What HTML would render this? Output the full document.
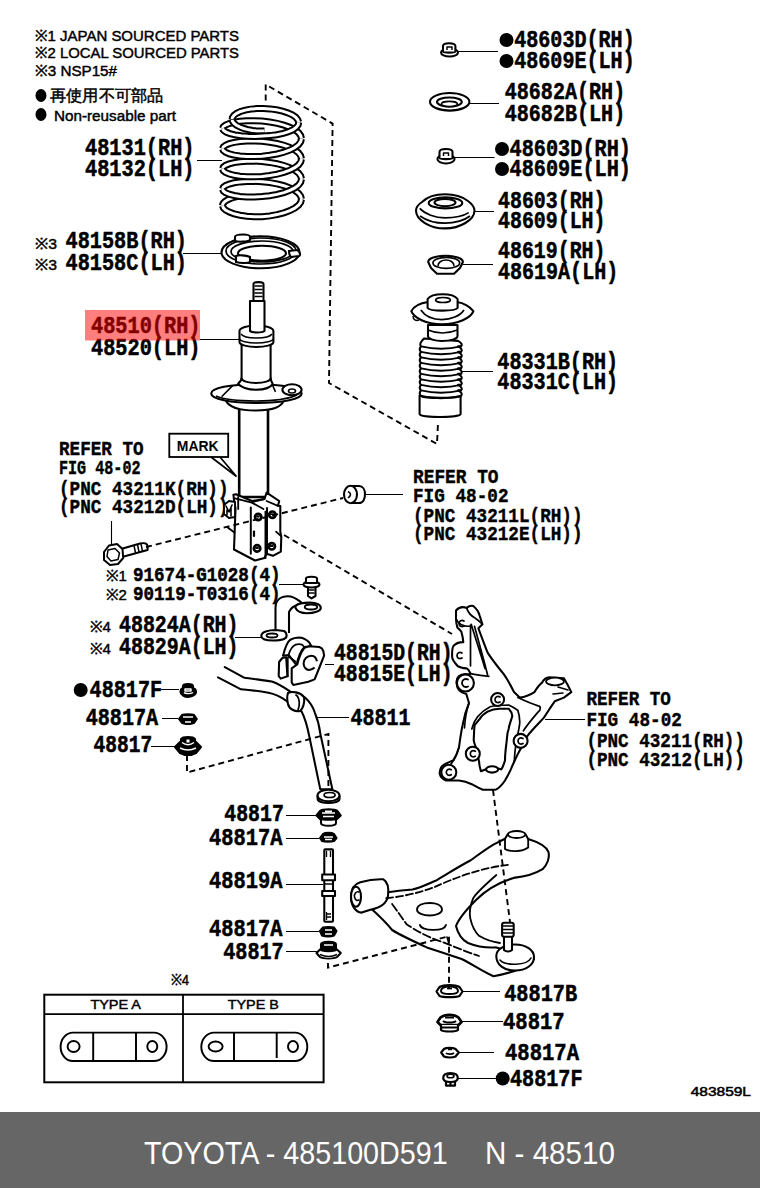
<!DOCTYPE html>
<html><head><meta charset="utf-8">
<style>
html,body{margin:0;padding:0;background:#fff;width:760px;height:1188px;overflow:hidden}
svg{display:block;position:absolute;left:0;top:0}
.L{font-family:"Liberation Mono",monospace;font-weight:bold;font-size:23px;fill:#000;stroke:#000;stroke-width:0.5}
.N{font-family:"Liberation Sans",sans-serif;font-size:15.5px;fill:#000;stroke:#000;stroke-width:0.45}
.R{font-family:"Liberation Mono",monospace;font-weight:bold;font-size:20px;fill:#000;stroke:#000;stroke-width:0.4}
.s{fill:none;stroke:#000;stroke-width:1.5;stroke-linejoin:round;stroke-linecap:round}
.t{fill:none;stroke:#000;stroke-width:1.2}
.d{fill:none;stroke:#000;stroke-width:1.9;stroke-dasharray:6 4}
.w{fill:#fff;stroke:#000;stroke-width:1.5;stroke-linejoin:round}
#foot{position:absolute;left:0;top:1112px;width:760px;height:76px;background:#666}
#foot span{position:absolute;top:0;font-family:"Liberation Sans",sans-serif;font-size:31px;color:#fff;white-space:nowrap;line-height:76px}
</style></head><body>
<svg width="760" height="1112" viewBox="0 0 760 1112">
<!-- notes -->
<text class="N" x="35" y="40.5" textLength="204" lengthAdjust="spacingAndGlyphs">※1 JAPAN SOURCED PARTS</text>
<text class="N" x="35" y="58" textLength="204" lengthAdjust="spacingAndGlyphs">※2 LOCAL SOURCED PARTS</text>
<text class="N" x="35" y="76" textLength="82" lengthAdjust="spacingAndGlyphs">※3 NSP15#</text>
<ellipse cx="41" cy="95.5" rx="5.5" ry="6.5" fill="#000"/>
<text class="N" x="50" y="100.5" textLength="113.7" lengthAdjust="spacingAndGlyphs">再使用不可部品</text>
<ellipse cx="41" cy="114.5" rx="5.5" ry="6.5" fill="#000"/>
<text class="N" x="54" y="120.5" textLength="122" lengthAdjust="spacingAndGlyphs">Non-reusable part</text>

<!-- labels left -->
<text class="L" x="85" y="155" textLength="109.5" lengthAdjust="spacingAndGlyphs">48131(RH)</text>
<text class="L" x="85" y="176" textLength="109.5" lengthAdjust="spacingAndGlyphs">48132(LH)</text>
<text class="N" x="35" y="248.5" textLength="22" lengthAdjust="spacingAndGlyphs">※3</text>
<text class="L" x="65.5" y="248.2" textLength="121.5" lengthAdjust="spacingAndGlyphs">48158B(RH)</text>
<text class="N" x="35" y="269.5" textLength="22" lengthAdjust="spacingAndGlyphs">※3</text>
<text class="L" x="65.5" y="269.7" textLength="121.5" lengthAdjust="spacingAndGlyphs">48158C(LH)</text>
<text class="L" x="91" y="333" textLength="109.5" lengthAdjust="spacingAndGlyphs">48510(RH)</text>
<text class="L" x="91" y="355.3" textLength="109.5" lengthAdjust="spacingAndGlyphs">48520(LH)</text>

<text class="R" x="59" y="455.2" textLength="84.5" lengthAdjust="spacingAndGlyphs">REFER TO</text>
<text class="R" x="59" y="474" textLength="81.5" lengthAdjust="spacingAndGlyphs">FIG 48-02</text>
<text class="R" x="59" y="494.6" textLength="169.5" lengthAdjust="spacingAndGlyphs">(PNC 43211K(RH))</text>
<text class="R" x="59" y="513" textLength="169.5" lengthAdjust="spacingAndGlyphs">(PNC 43212D(LH))</text>

<text class="R" x="413" y="483" textLength="85.5" lengthAdjust="spacingAndGlyphs">REFER TO</text>
<text class="R" x="413" y="502" textLength="95.5" lengthAdjust="spacingAndGlyphs">FIG 48-02</text>
<text class="R" x="413" y="521.5" textLength="169.5" lengthAdjust="spacingAndGlyphs">(PNC 43211L(RH))</text>
<text class="R" x="413" y="540" textLength="169.5" lengthAdjust="spacingAndGlyphs">(PNC 43212E(LH))</text>

<text class="N" x="106" y="581.3" textLength="21" lengthAdjust="spacingAndGlyphs">※1</text>
<text class="L" x="133" y="581.3" textLength="147.5" lengthAdjust="spacingAndGlyphs" style="font-size:20.5px">91674-G1028(4)</text>
<text class="N" x="106" y="600" textLength="21" lengthAdjust="spacingAndGlyphs">※2</text>
<text class="L" x="133" y="600" textLength="147.5" lengthAdjust="spacingAndGlyphs" style="font-size:20.5px">90119-T0316(4)</text>
<text class="N" x="90" y="632.2" textLength="21" lengthAdjust="spacingAndGlyphs">※4</text>
<text class="L" x="119" y="632.2" textLength="119.5" lengthAdjust="spacingAndGlyphs">48824A(RH)</text>
<text class="N" x="90" y="653.6" textLength="21" lengthAdjust="spacingAndGlyphs">※4</text>
<text class="L" x="119" y="653.6" textLength="119.5" lengthAdjust="spacingAndGlyphs">48829A(LH)</text>
<text class="L" x="334" y="659.5" textLength="118.5" lengthAdjust="spacingAndGlyphs">48815D(RH)</text>
<text class="L" x="334" y="681" textLength="118.5" lengthAdjust="spacingAndGlyphs">48815E(LH)</text>

<circle cx="80.7" cy="690" r="7" fill="#000"/>
<text class="L" x="89.6" y="697.3" textLength="72.5" lengthAdjust="spacingAndGlyphs">48817F</text>
<text class="L" x="85.7" y="724.5" textLength="72.5" lengthAdjust="spacingAndGlyphs">48817A</text>
<text class="L" x="93.6" y="751.6" textLength="58.5" lengthAdjust="spacingAndGlyphs">48817</text>
<text class="L" x="350.5" y="724.6" textLength="60" lengthAdjust="spacingAndGlyphs">48811</text>

<text class="R" x="586.4" y="705.4" textLength="84.5" lengthAdjust="spacingAndGlyphs">REFER TO</text>
<text class="R" x="586.4" y="725.6" textLength="95.5" lengthAdjust="spacingAndGlyphs">FIG 48-02</text>
<text class="R" x="586.4" y="746.6" textLength="158.5" lengthAdjust="spacingAndGlyphs">(PNC 43211(RH))</text>
<text class="R" x="586.4" y="765.8" textLength="158.5" lengthAdjust="spacingAndGlyphs">(PNC 43212(LH))</text>

<text class="L" x="224.3" y="821.3" textLength="59.5" lengthAdjust="spacingAndGlyphs">48817</text>
<text class="L" x="209" y="845" textLength="73.5" lengthAdjust="spacingAndGlyphs">48817A</text>
<text class="L" x="209" y="887.6" textLength="73.5" lengthAdjust="spacingAndGlyphs">48819A</text>
<text class="L" x="209" y="936" textLength="73.5" lengthAdjust="spacingAndGlyphs">48817A</text>
<text class="L" x="223.2" y="959.2" textLength="60.5" lengthAdjust="spacingAndGlyphs">48817</text>

<!-- right column labels -->
<circle cx="506.5" cy="40" r="7" fill="#000"/>
<text class="L" x="514.2" y="46.8" textLength="120.5" lengthAdjust="spacingAndGlyphs">48603D(RH)</text>
<circle cx="506.5" cy="61" r="7" fill="#000"/>
<text class="L" x="514.2" y="68" textLength="120.5" lengthAdjust="spacingAndGlyphs">48609E(LH)</text>
<text class="L" x="504.7" y="99" textLength="120.5" lengthAdjust="spacingAndGlyphs">48682A(RH)</text>
<text class="L" x="504.7" y="121" textLength="120.5" lengthAdjust="spacingAndGlyphs">48682B(LH)</text>
<circle cx="502" cy="149" r="7" fill="#000"/>
<text class="L" x="509.5" y="155.8" textLength="121.5" lengthAdjust="spacingAndGlyphs">48603D(RH)</text>
<circle cx="502" cy="169" r="7" fill="#000"/>
<text class="L" x="509.5" y="176.3" textLength="121.5" lengthAdjust="spacingAndGlyphs">48609E(LH)</text>
<text class="L" x="498" y="208" textLength="107.5" lengthAdjust="spacingAndGlyphs">48603(RH)</text>
<text class="L" x="498" y="228.4" textLength="107.5" lengthAdjust="spacingAndGlyphs">48609(LH)</text>
<text class="L" x="498" y="258.4" textLength="107.5" lengthAdjust="spacingAndGlyphs">48619(RH)</text>
<text class="L" x="498" y="279" textLength="120.2" lengthAdjust="spacingAndGlyphs">48619A(LH)</text>
<text class="L" x="497.3" y="369" textLength="120.9" lengthAdjust="spacingAndGlyphs">48331B(RH)</text>
<text class="L" x="497.3" y="388.5" textLength="120.9" lengthAdjust="spacingAndGlyphs">48331C(LH)</text>

<text class="L" x="504.2" y="1001" textLength="73" lengthAdjust="spacingAndGlyphs">48817B</text>
<text class="L" x="503" y="1029" textLength="61.7" lengthAdjust="spacingAndGlyphs">48817</text>
<text class="L" x="505" y="1059.5" textLength="74" lengthAdjust="spacingAndGlyphs">48817A</text>
<circle cx="502.7" cy="1078.5" r="7" fill="#000"/>
<text class="L" x="510" y="1086.3" textLength="72.5" lengthAdjust="spacingAndGlyphs">48817F</text>
<text x="690.7" y="1096.2" textLength="60.3" lengthAdjust="spacingAndGlyphs" style="font-family:'Liberation Sans',sans-serif;font-size:12.5px;fill:#000;stroke:#000;stroke-width:0.5">483859L</text>


<!-- ===== DRAWINGS ===== -->
<g id="leaders" style="fill:none;stroke:#000;stroke-width:1.1">
<path d="M197.0,160.5H222 M183.0,253.5H223 M200.0,339.5H241 M279.0,584.5H303 M235.0,637.5H263 M325.0,664.5H334 M161.0,689.5H179 M162.0,718.5H178 M151.0,746.5H176 M317.0,717.5H349 M545.0,719.5H585 M286.0,815.5H317 M286.0,838.5H319 M286.0,884.5H323 M286.0,931.5H319 M286.0,951.5H317 M458.0,51.5H498 M470.0,103.5H499 M455.0,157.5H494.6 M475.0,211.5H494 M463.0,264.5H493 M461.0,371.5H493 M364.0,494.5H403 M462.0,991.5H500 M462.0,1021.5H503 M457.0,1052.5H494 M458.0,1078.5H496 M111.5,521V547"/>
</g>



<g id="spring">
<path d="M232.1,119.8 L232.4,117.5 L234.0,115.3 L236.7,113.3 L240.5,111.5 L245.3,110.1 L250.9,109.1 L257.0,108.6 L263.5,108.5 L270.1,108.9 L276.5,109.8 L282.5,111.1 L287.8,112.8 L292.3,114.8 L295.7,117.2 L297.8,119.7 L298.7,122.2" style="fill:none;stroke:#000;stroke-width:7"/><path d="M232.1,119.8 L232.4,117.5 L234.0,115.3 L236.7,113.3 L240.5,111.5 L245.3,110.1 L250.9,109.1 L257.0,108.6 L263.5,108.5 L270.1,108.9 L276.5,109.8 L282.5,111.1 L287.8,112.8 L292.3,114.8 L295.7,117.2 L297.8,119.7 L298.7,122.2" style="fill:none;stroke:#fff;stroke-width:3"/>
<path d="M222.5,128.6 L223.3,126.7 L225.5,125.0 L229.2,123.5 L234.1,122.2 L240.1,121.3 L246.9,120.8 L254.3,120.7 L262.0,121.1 L269.7,122.0 L277.1,123.3 L283.9,125.1 L289.9,127.3 L294.8,129.8 L298.5,132.6 L300.7,135.6 L301.5,138.7" style="fill:none;stroke:#000;stroke-width:7"/><path d="M222.5,128.6 L223.3,126.7 L225.5,125.0 L229.2,123.5 L234.1,122.2 L240.1,121.3 L246.9,120.8 L254.3,120.7 L262.0,121.1 L269.7,122.0 L277.1,123.3 L283.9,125.1 L289.9,127.3 L294.8,129.8 L298.5,132.6 L300.7,135.6 L301.5,138.7" style="fill:none;stroke:#fff;stroke-width:3"/>
<path d="M222.5,148.8 L223.3,146.9 L225.5,145.2 L229.2,143.7 L234.1,142.4 L240.1,141.5 L246.9,141.0 L254.3,140.9 L262.0,141.3 L269.7,142.2 L277.1,143.5 L283.9,145.3 L289.9,147.5 L294.8,150.0 L298.5,152.8 L300.7,155.8 L301.5,158.8" style="fill:none;stroke:#000;stroke-width:7"/><path d="M222.5,148.8 L223.3,146.9 L225.5,145.2 L229.2,143.7 L234.1,142.4 L240.1,141.5 L246.9,141.0 L254.3,140.9 L262.0,141.3 L269.7,142.2 L277.1,143.5 L283.9,145.3 L289.9,147.5 L294.8,150.0 L298.5,152.8 L300.7,155.8 L301.5,158.8" style="fill:none;stroke:#fff;stroke-width:3"/>
<path d="M222.5,168.9 L223.3,167.1 L225.5,165.4 L229.2,163.9 L234.1,162.6 L240.1,161.7 L246.9,161.2 L254.3,161.1 L262.0,161.5 L269.7,162.4 L277.1,163.7 L283.9,165.5 L289.9,167.7 L294.8,170.2 L298.5,173.0 L300.7,176.0 L301.5,179.0" style="fill:none;stroke:#000;stroke-width:7"/><path d="M222.5,168.9 L223.3,167.1 L225.5,165.4 L229.2,163.9 L234.1,162.6 L240.1,161.7 L246.9,161.2 L254.3,161.1 L262.0,161.5 L269.7,162.4 L277.1,163.7 L283.9,165.5 L289.9,167.7 L294.8,170.2 L298.5,173.0 L300.7,176.0 L301.5,179.0" style="fill:none;stroke:#fff;stroke-width:3"/>
<path d="M222.5,189.2 L223.3,187.3 L225.5,185.6 L229.2,184.1 L234.1,182.8 L240.1,181.9 L246.9,181.4 L254.3,181.3 L262.0,181.7 L269.7,182.6 L277.1,183.9 L283.9,185.7 L289.9,187.9 L294.8,190.4 L298.5,193.2 L300.7,196.2 L301.5,199.2" style="fill:none;stroke:#000;stroke-width:7"/><path d="M222.5,189.2 L223.3,187.3 L225.5,185.6 L229.2,184.1 L234.1,182.8 L240.1,181.9 L246.9,181.4 L254.3,181.3 L262.0,181.7 L269.7,182.6 L277.1,183.9 L283.9,185.7 L289.9,187.9 L294.8,190.4 L298.5,193.2 L300.7,196.2 L301.5,199.2" style="fill:none;stroke:#fff;stroke-width:3"/>
<path d="M222.5,205.6 L222.6,204.9 L222.8,204.2 L223.1,203.5 L223.6,202.8 L224.2,202.2 L224.9,201.5 L225.8,200.9 L226.8,200.3 L227.9,199.7 L229.2,199.1 L230.5,198.5 L232.0,198.0 L233.5,197.5 L235.2,197.0 L236.9,196.6 L238.8,196.2" style="fill:none;stroke:#000;stroke-width:7"/><path d="M222.5,205.6 L222.6,204.9 L222.8,204.2 L223.1,203.5 L223.6,202.8 L224.2,202.2 L224.9,201.5 L225.8,200.9 L226.8,200.3 L227.9,199.7 L229.2,199.1 L230.5,198.5 L232.0,198.0 L233.5,197.5 L235.2,197.0 L236.9,196.6 L238.8,196.2" style="fill:none;stroke:#fff;stroke-width:3"/>
<path d="M264.5,131.0 L261.5,131.0 L258.5,130.9 L255.6,130.7 L252.7,130.4 L249.9,129.9 L247.2,129.4 L244.7,128.7 L242.4,128.0 L240.2,127.1 L238.3,126.2 L236.5,125.3 L235.1,124.2 L233.9,123.1 L233.0,122.0 L232.4,120.9 L232.1,119.8" style="fill:none;stroke:#000;stroke-width:7"/><path d="M264.5,131.0 L261.5,131.0 L258.5,130.9 L255.6,130.7 L252.7,130.4 L249.9,129.9 L247.2,129.4 L244.7,128.7 L242.4,128.0 L240.2,127.1 L238.3,126.2 L236.5,125.3 L235.1,124.2 L233.9,123.1 L233.0,122.0 L232.4,120.9 L232.1,119.8" style="fill:none;stroke:#fff;stroke-width:3"/>
<path d="M298.7,122.2 L298.2,124.8 L296.3,127.3 L293.1,129.7 L288.7,131.7 L283.2,133.4 L276.8,134.7 L269.9,135.6 L262.5,136.0 L255.1,136.4 L247.8,136.3 L241.0,135.8 L235.0,134.9 L229.9,133.6 L226.1,132.1 L223.6,130.4 L222.5,128.6" style="fill:none;stroke:#000;stroke-width:7"/><path d="M298.7,122.2 L298.2,124.8 L296.3,127.3 L293.1,129.7 L288.7,131.7 L283.2,133.4 L276.8,134.7 L269.9,135.6 L262.5,136.0 L255.1,136.4 L247.8,136.3 L241.0,135.8 L235.0,134.9 L229.9,133.6 L226.1,132.1 L223.6,130.4 L222.5,128.6" style="fill:none;stroke:#fff;stroke-width:3"/>
<path d="M301.5,138.7 L300.7,141.7 L298.5,144.7 L294.8,147.5 L289.9,150.0 L283.9,152.2 L277.1,154.0 L269.7,155.3 L262.0,156.2 L254.3,156.6 L246.9,156.5 L240.1,156.0 L234.1,155.1 L229.2,153.8 L225.5,152.3 L223.3,150.6 L222.5,148.8" style="fill:none;stroke:#000;stroke-width:7"/><path d="M301.5,138.7 L300.7,141.7 L298.5,144.7 L294.8,147.5 L289.9,150.0 L283.9,152.2 L277.1,154.0 L269.7,155.3 L262.0,156.2 L254.3,156.6 L246.9,156.5 L240.1,156.0 L234.1,155.1 L229.2,153.8 L225.5,152.3 L223.3,150.6 L222.5,148.8" style="fill:none;stroke:#fff;stroke-width:3"/>
<path d="M301.5,158.8 L300.7,161.9 L298.5,164.9 L294.8,167.7 L289.9,170.2 L283.9,172.4 L277.1,174.2 L269.7,175.5 L262.0,176.4 L254.3,176.8 L246.9,176.7 L240.1,176.2 L234.1,175.3 L229.2,174.0 L225.5,172.5 L223.3,170.8 L222.5,168.9" style="fill:none;stroke:#000;stroke-width:7"/><path d="M301.5,158.8 L300.7,161.9 L298.5,164.9 L294.8,167.7 L289.9,170.2 L283.9,172.4 L277.1,174.2 L269.7,175.5 L262.0,176.4 L254.3,176.8 L246.9,176.7 L240.1,176.2 L234.1,175.3 L229.2,174.0 L225.5,172.5 L223.3,170.8 L222.5,168.9" style="fill:none;stroke:#fff;stroke-width:3"/>
<path d="M301.5,179.0 L300.7,182.1 L298.5,185.1 L294.8,187.9 L289.9,190.4 L283.9,192.6 L277.1,194.4 L269.7,195.7 L262.0,196.6 L254.3,197.0 L246.9,196.9 L240.1,196.4 L234.1,195.5 L229.2,194.2 L225.5,192.7 L223.3,191.0 L222.5,189.2" style="fill:none;stroke:#000;stroke-width:7"/><path d="M301.5,179.0 L300.7,182.1 L298.5,185.1 L294.8,187.9 L289.9,190.4 L283.9,192.6 L277.1,194.4 L269.7,195.7 L262.0,196.6 L254.3,197.0 L246.9,196.9 L240.1,196.4 L234.1,195.5 L229.2,194.2 L225.5,192.7 L223.3,191.0 L222.5,189.2" style="fill:none;stroke:#fff;stroke-width:3"/>
<path d="M301.5,199.2 L300.7,202.3 L298.5,205.3 L294.8,208.1 L289.9,210.6 L283.9,212.8 L277.1,214.6 L269.7,215.9 L262.0,216.8 L254.3,216.7 L246.9,216.2 L240.1,215.2 L234.1,213.8 L229.2,212.0 L225.5,210.0 L223.3,207.8 L222.5,205.6" style="fill:none;stroke:#000;stroke-width:7"/><path d="M301.5,199.2 L300.7,202.3 L298.5,205.3 L294.8,208.1 L289.9,210.6 L283.9,212.8 L277.1,214.6 L269.7,215.9 L262.0,216.8 L254.3,216.7 L246.9,216.2 L240.1,215.2 L234.1,213.8 L229.2,212.0 L225.5,210.0 L223.3,207.8 L222.5,205.6" style="fill:none;stroke:#fff;stroke-width:3"/>

</g>
<g id="seat" style="fill:#fff;stroke:#000;stroke-width:2.07">
<ellipse cx="260.5" cy="252.3" rx="39" ry="16"/>
<ellipse cx="261" cy="251" rx="35" ry="13" style="stroke-width:1.71"/>
<ellipse cx="262" cy="251.5" rx="31" ry="10.5" style="stroke-width:1.71"/>
<ellipse cx="262" cy="253.2" rx="24" ry="7.5" style="stroke-width:2.07"/>
<path d="M235,241V237C235,235.5 238,234.5 243,234.5C247,234.5 250,235 250,237V240C247,242 238,242 235,241Z"/>
<path d="M236,256C238,255 246,255 250,257V262C248,263.5 240,263 236,262Z"/>
<path d="M289,251L297,250C300,252 301,255 299,256L291,257C289,255 289,253 289,251Z"/>
</g>
<g id="strut" style="fill:#fff;stroke:#000;stroke-width:2.07;stroke-linejoin:round">
<path d="M239.2,408V497H268V408" style="stroke-width:2.6"/>
<path d="M225.7,400C228,407 240,410.5 256,410.5C272,410.5 282,407 283.8,400Z"/>
<path d="M211.2,393.5C211.2,388 230,384.2 256.5,384.2C283,384.2 301.7,388 301.7,393.5C301.7,399 283,402.9 256.5,402.9C230,402.9 211.2,399 211.2,393.5Z"/>
<path d="M216,396C225,400 240,401 256,401C272,401 288,399 297,395" style="fill:none;stroke-width:1.59"/>
<ellipse cx="292" cy="389.8" rx="9.6" ry="5.5"/>
<ellipse cx="292" cy="391" rx="3.5" ry="2" style="stroke-width:1.59"/>
<path d="M221.6,396.7L232.6,385.6 M275.5,391.8L272,384" style="fill:none;stroke-width:1.59"/>
<path d="M238.2,383.6C240,387 248,389.8 256,389.8C265,389.8 271,387 272.7,384C271,381 270.6,379 270.6,378H241.6C241.6,380 240,382 238.2,383.6Z"/>
<path d="M241.6,344V378C241.6,381 248,383 256,383C264,383 270.6,381 270.6,378V344"/>
<path d="M239.5,331V342C239.5,345 248,347 256.5,347C265,347 273.4,345 273.4,342V331C273.4,327.5 265,325.5 256.5,325.5C248,325.5 239.5,327.5 239.5,331Z"/>
<path d="M239.5,338.7C239.5,341 248,343 256.5,343C265,343 273.4,341 273.4,338.7" style="fill:none;stroke-width:1.59"/>
<path d="M241,334C243,337 250,338 256.5,338C263,338 270,337 272,334" style="fill:none;stroke-width:1.46"/>
<path d="M250,331V301H264.5V331C262,333 252,333 250,331Z"/>
<path d="M253.5,301V284C253.5,281.5 263.5,281.5 263.5,284V301Z"/>
<path d="M254.5,286H262.5M254.5,289.5H262.5M254.5,293H262.5M254.5,296.5H262.5" style="stroke-width:1.34"/>
</g>
<g id="bracket" style="fill:#fff;stroke:#000;stroke-width:2.07;stroke-linejoin:round;stroke-linecap:round">
<path d="M233.4,494.7L236,494.2L252,501L264.5,499L266.6,492.6L279.2,501L278,505.8L280.3,506V531.6L281.3,536.8L280.8,551.6L272.9,555.8L266.6,553.7L264.5,557.9L255,560.5L234,549.5L235.5,508.4L234,500Z"/>
<path d="M235,498.4L251.8,502.6L263.4,509 M251.8,502.1L264.5,499 M266.6,501L278,505.8" style="fill:none;stroke-width:1.83"/>
<path d="M250.8,507.4V553.7 M265.5,511.6V557.9 M267,508V553" style="fill:none;stroke-width:1.95"/>
<path d="M276,531.6L281,536" style="fill:none;stroke-width:1.71"/>
<path d="M238.2,497V509" style="fill:none;stroke-width:1.83"/>
<circle cx="258.2" cy="517" r="3.2" style="stroke-width:2.68"/><circle cx="272.4" cy="514.7" r="3.2" style="stroke-width:2.68"/><circle cx="257.1" cy="548.4" r="3.2" style="stroke-width:2.68"/><circle cx="271.8" cy="546.3" r="3.2" style="stroke-width:2.68"/>
<path d="M257,516.5h2M271.2,514.2h2M256,548h2M270.6,546h2" style="stroke-width:1.83"/>
<path d="M254,531.5V536" style="fill:none;stroke-width:2.2"/>
<path d="M224,505L229,501L235,502V517L229,518L224,514Z" style="stroke-width:1.83"/>
<path d="M226,506L229,512L232,505 M227,510V515 M231,508V516" style="fill:none;stroke-width:1.59"/>
<path d="M227.6,527.4L234.5,532.6" style="fill:none;stroke-width:1.83"/>
</g>


<g id="rightparts" style="fill:#fff;stroke:#000;stroke-width:2.07;stroke-linejoin:round">
<!-- nut1 -->
<ellipse cx="449.5" cy="52.5" rx="8.5" ry="4"/>
<path d="M443,51.5V46C443,44 446,43.2 449,43.2C452,43.2 455.4,44 455.4,46V51.5C455.4,53 443,53 443,51.5Z"/>
<path d="M447,50V47H452V50" style="fill:none;stroke-width:1.46"/>
<!-- washer -->
<ellipse cx="449.7" cy="101.8" rx="19.7" ry="8.8"/>
<ellipse cx="449.4" cy="102" rx="12.4" ry="4.5"/>
<ellipse cx="449.4" cy="104" rx="8" ry="2.6" style="stroke-width:1.59"/>
<!-- nut2 -->
<ellipse cx="446" cy="159" rx="8.6" ry="4.5"/>
<path d="M439.5,158V152C439.5,150 443,149 446,149C449,149 452.5,150 452.5,152V158C452.5,159.5 439.5,159.5 439.5,158Z"/>
<path d="M443.5,156V153H448.5V156" style="fill:none;stroke-width:1.46"/>
<!-- mount 48603 -->
<path d="M416,210.5C416,207 419,204 422,202C427,197 436,194.2 445,194.2C454,194.2 463,197 468,201C472,204 474.5,207 474.5,210.5C474.5,220 460,228.4 445,228.4C430,228.4 416,220 416,210.5Z"/>
<path d="M419.7,208.4C425,214 435,217.9 445,217.9C456,217.9 465,215 468.7,212.6" style="fill:none;stroke-width:1.71"/>
<path d="M420,216C427,221 436,223.2 445,223.2C455,223.2 465,220 470,216" style="fill:none;stroke-width:1.71"/>
<ellipse cx="445.5" cy="202.9" rx="16.8" ry="5.5"/>
<ellipse cx="445" cy="202.6" rx="10.5" ry="3.6"/>
<!-- washer 48619 -->
<path d="M428.2,262L431,268L437,273.7H454L460,268L462.9,262C462.9,258 455,255.8 445.5,255.8C436,255.8 428.2,258 428.2,262Z"/>
<ellipse cx="446.3" cy="262.9" rx="13.4" ry="5.5" style="stroke-width:1.59"/>
<path d="M438,266C438,262 442,260 446,260C450,260 454,262 454,266" style="fill:none;stroke-width:1.59"/>
<!-- boot -->
<path d="M419.6,395V414C419.6,416 430,417 440,417C450,417 460.6,416 460.6,414V395"/>
<path d="M424,338.5 Q418.5,343.9 421,346.4 Q418.5,349.4 421,351.9 Q418.5,354.9 421,357.4 Q418.5,360.4 421,362.9 Q418.5,365.9 421,368.4 Q418.5,371.4 421,373.9 Q418.5,376.9 421,379.4 Q418.5,382.4 421,384.9 Q418.5,387.9 421,390.4 Q418.5,393.4 421,395.9 L421,396 C425,398.5 456,398.5 461,396 L461,395.9 Q463.5,393.4 458,390.4 L461,390.4 Q463.5,387.9 458,384.9 L461,384.9 Q463.5,382.4 458,379.4 L461,379.4 Q463.5,376.9 458,373.9 L461,373.9 Q463.5,371.4 458,368.4 L461,368.4 Q463.5,365.9 458,362.9 L461,362.9 Q463.5,360.4 458,357.4 L461,357.4 Q463.5,354.9 458,351.9 L461,351.9 Q463.5,349.4 458,346.4 L461,346.4 Q463.5,343.9 458,340.9 Z"/>
<path d="M421,346.4Q441,350.9 461,346.4 M421,351.9Q441,356.4 461,351.9 M421,357.4Q441,361.9 461,357.4 M421,362.9Q441,367.4 461,362.9 M421,368.4Q441,372.9 461,368.4 M421,373.9Q441,378.4 461,373.9 M421,379.4Q441,383.9 461,379.4 M421,384.9Q441,389.4 461,384.9 M421,390.4Q441,394.9 461,390.4 M421,395.9Q441,400.4 461,395.9" style="fill:none;stroke-width:1.95"/>
<path d="M428,325V336C428,339 435,341 442,341C450,341 457.5,339 457.5,336V325Z"/>
<path d="M428,330Q442,336 457.5,330" style="fill:none;stroke-width:1.71"/>
<path d="M411.3,311.2C414,306 421,303 428,302H457C464,303 470,307 473.4,311.2C471,318 458,324.3 441.8,324.3C426,324.3 414,318 411.3,311.2Z"/>
<path d="M420.8,310C425,316 433,319.6 441.8,319.6C451,319.6 460,316 464,310" style="fill:none;stroke-width:1.7"/>
<path d="M413,316C413,320 416,321 419,320" style="fill:none;stroke-width:1.5"/>
<path d="M427.6,308V299C430,295.5 436,294.3 442.6,294.3C449,294.3 455,295.5 457.6,299V308C455,311.5 430,311.5 427.6,308Z"/>
<ellipse cx="443" cy="300" rx="7.4" ry="2.5" style="stroke-width:1.7"/>
</g>
<g id="markbox">
<rect x="169.3" y="433.7" width="58.9" height="23.3" style="fill:#fff;stroke:#000;stroke-width:1.83"/>
<text x="176.8" y="451" textLength="41.8" lengthAdjust="spacingAndGlyphs" style="font-family:'Liberation Sans',sans-serif;font-weight:bold;font-size:14px;fill:#000">MARK</text>
<path d="M211,457L236.5,476.5L220,457" style="fill:none;stroke:#000;stroke-width:1.71"/>
</g>
<g id="bolt" style="fill:#fff;stroke:#000;stroke-width:2;stroke-linejoin:round">
<path d="M121,549L140,543.5C145,542.5 147.6,543.5 147.6,546.5V550L122,557Z"/>
<path d="M134,545.5L135.5,553M137.5,544.5L139,552M141,543.8L142.5,551.3" style="fill:none;stroke-width:1.5"/>
<path d="M104,552L109,545.5L117,544.1L122.5,549L123.2,558L118,564L110,565L104,560Z"/>
<path d="M108,550L115,548.5L119.5,553L118,559.5L111,561L107,556.5Z" style="stroke-width:1.5"/>
</g>
<g id="bush1" style="fill:#fff;stroke:#000;stroke-width:2.07">
<path d="M350,486H359C363,486 365,490 365,494C365,499 363,503 359,503H350"/>
<ellipse cx="350.5" cy="494.5" rx="6.5" ry="8.8"/>
<path d="M348,491.5Q353,494 348,498" style="fill:none;stroke-width:1.59"/>
</g>


<g id="stabparts" style="fill:#fff;stroke:#000;stroke-width:2.07;stroke-linejoin:round">
<!-- small bolt -->
<path d="M308,587V596L311.5,598.4L315.5,596V587Z"/>
<path d="M309,590H314.5M309,593H314.5" style="stroke-width:1.34"/>
<ellipse cx="311.5" cy="584.5" rx="8" ry="3"/>
<path d="M306,583V578.5C306,577 309,576.8 311.5,576.8C314,576.8 317,577 317,578.5V583Z"/>
<!-- bracket -->
<path d="M275.5,631V608C275.5,600 281,596.3 288,596.3C294,596.3 298,600 302,603L300,606C296,605 292,606 289,612V633"/>
<path d="M261.3,636C261.3,632 268,630 276,630L284,631C286,632 286.6,634 286.6,636C286.6,639 280,640.5 273,640.5C266,640.5 261.3,639 261.3,636Z"/>
<ellipse cx="272" cy="635.5" rx="5.5" ry="2" style="stroke-width:1.83"/>
<path d="M295.5,606C298,603 306,602.6 310,602.6C317,602.6 320.8,605 320.8,608C320.8,611 314,613.2 307,613.2C301,613.2 297,611 295.5,608Z"/>
<ellipse cx="311" cy="607" rx="6.3" ry="2.5" style="stroke-width:1.83"/>
<!-- bushing 48815 -->
<path d="M283,655.7C285,648 287,642 290.2,639.9C293,638 296,637.5 299.6,637.5C304,638 307,640 309.1,642.3L311.5,646.2L304.4,647C300,652 298,658 296.5,665.2L288.6,654.9Z"/>
<path d="M288.6,654.9C290,650 292,646 295.7,644.6C298,644 300,644 302,644.6L304.4,647" style="fill:none;stroke-width:1.7"/>
<path d="M309.1,646.2L319.4,647C322,648 323,650 323.3,651L324.1,655.7L319.4,667.5L314.6,679.4L308.3,681.7L293.3,684.9L291.7,682.5V668.3L297.3,664.4C299,657 301,652 304.4,647.8Z"/>
<path d="M279.1,662L282.3,658L286.2,657.3L287.4,676.2L280.7,678.6L278.7,676.2Z"/>
<path d="M287.8,657.3V677 M287.8,656L296,662" style="fill:none;stroke-width:1.7"/>
<path d="M317,661.2C316,657 314,655.7 311.5,655.7C307,655.7 303.6,659 303.6,663.6C303.6,667 306,669.9 309.1,669.9C311,669.9 313,669 314.6,667.5" style="fill:none;stroke-width:2"/>
<!-- nut 48817F -->
<path d="M180.5,692C180.5,695 185,697 188,697C191,697 196,695 196,692C196,689 193,688 193,688V686C193,684.5 190,684 188,684C186,684 183,684.5 183,686V688C183,688 180.5,689 180.5,692Z" style="fill:#000"/>
<path d="M184,692.5C185,694 191,694 193,692.5M185,689H191V691H185Z" style="stroke:#fff;stroke-width:1.46;fill:none"/>
<!-- washer 48817A -->
<path d="M179,719L182,715C184,714 192,714 194,715L196.8,719L194,723L190,724H186L182,723Z" style="fill:#000"/>
<path d="M183,717H193M185,722H191" style="stroke:#fff;stroke-width:1.46"/>
<!-- bushing 48817 top -->
<path d="M175,747L181,741V739C182,737.5 186,737 188,737C190,737 194,737.5 195,739V741L201,747L196,753L191,755H185L180,753Z" style="fill:#000"/>
<path d="M182,742.5Q188,747 194,742.5 M180,748Q188,752 196,748" style="stroke:#fff;stroke-width:1.46;fill:none"/>
<rect x="186.5" y="739.5" width="3" height="3" style="fill:#fff;stroke:none"/>
</g>


<g id="stabbar" style="fill:#fff;stroke:#000;stroke-width:2.07;stroke-linejoin:round;stroke-linecap:round">
<path d="M224.8,667.1L243.6,677.4C253,679 263,680 271.8,681.6C279,684 285,688 290.7,691.9L305,697.5C309,701 313,707 314.9,712.8C318,720 319.5,727 320.3,733.6L332.4,789.4H320.3L309.4,736.9C307.5,727 305,718 301.7,711.7L287.2,701.3C281,697 275,694 268.4,692.8C259,691 250,690 241,689.3L218,677.4"/>
<path d="M288,693C292,691 300,692 304,697C305,702 303,709 300,711C295,712 289,709 288,704C287,700 287,696 288,693Z"/>
<path d="M296,695C300,698 300,706 298,710" style="fill:none;stroke-width:1.71"/>
<path d="M317.6,796V799C317.6,801.5 323,803 328.5,803C334,803 339.5,801.5 339.5,799V796"/>
<ellipse cx="328.5" cy="795.5" rx="11" ry="5.8"/>
<ellipse cx="329.6" cy="795" rx="5.5" ry="2.5" style="stroke-width:1.71"/>
</g>
<g id="link" style="fill:#fff;stroke:#000;stroke-width:2.07;stroke-linejoin:round">
<!-- bushing 1 -->
<path d="M321,817V823C321,825 325,825.8 328.7,825.8C332.5,825.8 336,825 336,823V817"/>
<path d="M316.5,815.5L320,811C322,809.5 326,809.3 328.7,809.3C331.5,809.3 335.5,809.5 337.5,811L340.8,815.5L337,819C334,820 323,820 320,819Z" style="fill:#000"/>
<path d="M322,813H335M323,816.5H334" style="stroke:#fff;stroke-width:1.46"/>
<rect x="325" y="810.5" width="7" height="2" style="fill:#fff;stroke:none"/>
<!-- washer 1 -->
<path d="M320,838L323,834C325,832.5 332,832.5 334,834L336.5,838L334,841C331,842 325,842 322,841Z" style="fill:#000"/>
<path d="M324,837H333M325,839.5H332" style="stroke:#fff;stroke-width:1.34"/>
<!-- rod -->
<rect x="324.3" y="849.4" width="8.7" height="72.4" rx="1"/>
<path d="M326.5,851V857M330.5,851V857M326.5,912V920M326.5,914H331M326.5,917H331" style="stroke-width:1.34;fill:none"/>
<rect x="322.2" y="874.5" width="12.8" height="5.7"/>
<rect x="322.2" y="891" width="12.8" height="5"/>
<path d="M324.3,884H333" style="stroke-width:1.46"/>
<!-- washer 2 -->
<path d="M320,931L323,927.5C325,926.8 332,926.8 334,927.5L336.5,931L334,935.5C331,936.8 325,936.8 322,935.5Z" style="fill:#000"/>
<path d="M325,930H332M325,934H332" style="stroke:#fff;stroke-width:1.34"/>
<!-- bushing 2 -->
<path d="M316.5,953L320,949.5C323,948.5 334,948.5 337,949.5L340.8,953L337,957C334,959 323,959 320,957Z"/>
<path d="M321,950V944.5C321,942.5 325,941.8 328.7,941.8C332.5,941.8 336,942.5 336,944.5V950C336,951.5 321,951.5 321,950Z" style="fill:#000"/>
<path d="M324,945H333 M320,955Q328.7,959 337,955" style="stroke:#fff;stroke-width:1.34;fill:none"/>
<path d="M320,954.5Q328.7,958.5 337,954.5" style="fill:none;stroke-width:1.46"/>
</g>


<g id="knuckle" style="fill:#fff;stroke:#000;stroke-width:2.07;stroke-linejoin:round;stroke-linecap:round">
<path d="M456,610.5C459,607 463,606.5 466.6,607.9C469,606 471,605.5 473.2,606C477,609 479,613 479.7,615.8L482.4,624.3L478.4,628.3C482,638 485,646 487.6,652.6C493,661 498,667 503.4,673.7C508,680 511,686 514,692L519.7,697.6C525,697 530,695 534.4,692.1C537,688 539,685 541.8,682.9C544,679 547,677.4 549.2,677.4L563.9,678.3L567.6,684.7L571.3,692.1L563.9,697.6L554.7,701.3C550,708 547,713 543.7,717.9C537,725 531,731 527.1,736.3C525,740 523,744 521.6,747.3C518,753 515,760 512.3,765.8C510,772 507,777 505,780.5C502,785 499,788 495.8,789.7H482.9C478,788 475,786 471.8,784.2C467,782 463,781 459,780.5H446C442,779 440,776 439.6,773.1C440,770 441,767 442.4,765.8C446,763 450,762 453.4,760.2C456,756 458,751 459,747.3C460,740 461,732 462.6,725.2C464,717 466,710 469,703L466.3,694C461,693 457,689 456.5,683C456,677 460,674 465.4,674C468,674 470,675 470.5,673.7C469,670 468,669 466.6,668.4C462,668 459,667 457.4,665.8C454,662 452,659 452.1,656.6C452,651 452,648 453.4,646C456,643 460,642 463.3,642.1C463,637 462,634 461.3,631.6C459,629 458,628 457.4,627.6C456,623 456,620 456,618.4Z"/>
<path d="M479.2,719.7C483,713 491,708.7 499.5,708.7H508.7C511,711 512,713 512.3,716C511,721 509,725 508.7,728.9C507,733 507,737 506.8,740C506,747 505,753 505,760.2C504,764 503,767 501.3,769.4C497,768 494,767 490.2,767.6C487,769 484,770 481,771.3C480,768 479,765 479.2,762.1C478,758 478,755 477.4,751C476,747 474,744 473.7,740C474,735 474,730 474.6,725.2Z"/>
<path d="M471.8,729C474,720 480,712 490.2,706.8C496,705 502,705 508.7,705C512,707 515,708 517.9,710.5C519,714 520,718 519.7,723.4C519,730 517,737 516,743.7C515,750 514.5,756 514.2,762.1" style="fill:none;stroke-width:1.71"/>
<path d="M470.5,625V665.8 M471.2,624.3C476,640 481,655 485,668.4 M474.5,626.3C479,643 484,660 487.6,675" style="fill:none;stroke-width:1.71"/>
<path d="M470.5,673.7C477,675 483,676 488.9,676.3" style="fill:none;stroke-width:1.71"/>
<path d="M517.9,697.6C525,701 532,704 538.1,705.9C541,706 541,710 538.1,712C533,718 527,725 523.4,730.8" style="fill:none;stroke-width:1.71"/>
<path d="M469,703C466,712 465,720 464.5,728 M459,747.3C457,755 455,760 450,765" style="fill:none;stroke-width:1.59"/>
<circle cx="465.4" cy="683" r="8.5"/>
<path d="M468,679.5C465,678 462,680 462,683C462,686 465,688 468,686.5" style="fill:none;stroke-width:1.83"/>
<circle cx="497.6" cy="699.5" r="6.5"/>
<path d="M500,697C497.5,695.5 495,697 495,699.5C495,702 497.5,703.5 500,702" style="fill:none;stroke-width:1.71"/>
<circle cx="520.6" cy="740.9" r="7"/>
<path d="M523,738.5C520.5,737 518,738.5 518,741C518,743.5 520.5,745 523,743.5" style="fill:none;stroke-width:1.71"/>
<circle cx="472.8" cy="753.8" r="7"/>
<path d="M475.3,751.3C472.8,749.8 470.3,751.3 470.3,753.8C470.3,756.3 472.8,757.8 475.3,756.3" style="fill:none;stroke-width:1.71"/>
<circle cx="448.8" cy="772.2" r="7.5"/>
<path d="M451.3,769.7C448.8,768.2 446.3,769.7 446.3,772.2C446.3,774.7 448.8,776.2 451.3,774.7" style="fill:none;stroke-width:1.71"/>
<ellipse cx="492.1" cy="769.4" rx="6" ry="3.2"/>
<ellipse cx="555" cy="681.5" rx="9" ry="3.8" style="stroke-width:1.83"/>
<path d="M558,687L568,690 M553,694L563,693" style="fill:none;stroke-width:1.59"/>
<path d="M464,621C461.5,619.5 459,621 459,623.5C459,626 461.5,627.5 464,626" style="fill:none;stroke-width:1.71"/>
<path d="M462,653C459.5,651.5 457,653 457,655.5C457,658 459.5,659.5 462,658" style="fill:none;stroke-width:1.71"/>
<path d="M466.6,607.9C468,612 471,616 475,618C478,620 480,622 482.4,624.3" style="fill:none;stroke-width:1.71"/>
<path d="M456,618.4C458,624 464,627 470,626" style="fill:none;stroke-width:1.59"/>
</g>
<g id="lowerarm" style="fill:#fff;stroke:#000;stroke-width:2.07;stroke-linejoin:round;stroke-linecap:round">
<path d="M386.3,892.4C395,891 405,890 412.4,889.5C420,888 428,884 435.5,880.8C447,874 458,867 470.3,860.5C478,855 486,849 493.4,844.6L505,838.8L507.9,834C512,831 522,831 525.3,834L528.2,839C538,842 546,846 548.4,851.8C550,858 547,865 542.6,869.2C535,874 522,877 513.7,877.9C500,882 486,890 476,900C466,910 459,918 456,926C458,934 462,940 468,943C478,947 488,948 496.3,947.4L534,959C530,966 515,972 493.4,976.3C480,970 472,964 461.6,959C450,955 438,951 426.8,947.4C415,942 402,936 392.1,930C384,920 376,913 369,906.8C365,903 363,900 362,897Z"/>
<path d="M360.3,882.2C368,880 376,879 383.4,879.3C388,882 389,888 388,896C387,903 380,908 370.4,909.7L361.7,912.6C355,912 351,905 351,897C351,889 354,884 360.3,882.2Z"/>
<ellipse cx="356" cy="896.7" rx="5" ry="10"/>
<path d="M359,892C356,891 354,894 354.5,897C355,900 357,901 359,900" style="fill:none;stroke-width:1.59"/>
<path d="M386.3,898.2C400,897 420,893 435.5,886.6C455,878 480,868 507.9,864.9" style="fill:none;stroke-width:1.83;stroke-dasharray:7 3"/>
<path d="M496.3,875C485,885 476,893 473.2,898.2C470,906 469,912 470.3,918.4C472,926 475,932 479,935.8C486,940 492,942 500,943" style="fill:none;stroke-width:1.83"/>
<path d="M392.1,904C398,912 402,918 406.6,924.2C418,932 430,938 441.3,941.6C455,947 467,952 479,956" style="fill:none;stroke-width:1.83;stroke-dasharray:8 3"/>
<path d="M505,849C510,852 522,852 528.2,847.5 M505,838.8V849 M528.2,839V847.5" style="fill:none;stroke-width:1.83"/>
<ellipse cx="516.6" cy="834.5" rx="8.7" ry="3.5" style="stroke-width:1.83"/>
<path d="M417,909.7C417,905 423,903 429.7,903C436,903 442,905 442,909.7C442,913 436,915.5 429.7,915.5C423,915.5 417,913 417,909.7Z" style="stroke-width:1.83"/>
<path d="M420,925C421,931 444,932 446,925" style="fill:none;stroke-width:1.83"/>
<path d="M447,937L449,944" style="fill:none;stroke-width:1.59"/>
<path d="M496.3,956C496.3,949 505,944.5 515,944.5C526,944.5 534,950 534,957C534,965 526,970.5 515,970.5C504,970.5 496.3,965 496.3,956Z"/>
<path d="M500,960C505,966 527,966 531,958" style="fill:none;stroke-width:1.59"/>
<path d="M504,936H512V950C510,952 506,952 504,950Z"/>
<rect x="502.1" y="922.8" width="11.6" height="14" rx="2"/>
<path d="M503,926H513M503,929.5H513M503,933H513" style="stroke-width:1.59;fill:none"/>
</g>
<g id="bottomnuts" style="fill:#fff;stroke:#000;stroke-width:2.2;stroke-linejoin:round">
<path d="M436.5,991.5L439.5,987C442,985.5 446,985.1 449.5,985.1C453,985.1 457,985.5 459.5,987L462.5,991.5L459.5,996C456,997.5 443,997.5 439.5,996Z"/>
<path d="M441,991C441,988 445,986.5 449.5,986.5C454,986.5 458,988 458,991C458,993 454,994 449.5,994C445,994 441,993 441,991Z" style="stroke-width:1.95"/>
<path d="M447,988.5H452" style="stroke-width:1.71"/>
<path d="M437.5,1022L440.5,1017.5C443,1015.5 446,1014.9 449.5,1014.9C453,1014.9 456,1015.5 458.5,1017.5L461.5,1022L458.5,1025H440.5Z" style="stroke-width:2.68"/>
<path d="M441,1025V1030C443,1032 456,1032 458,1030V1025" style="stroke-width:2.2"/>
<path d="M441.5,1027.5H457.5 M443,1021C445,1023 454,1023 456,1021 M445,1017.5H454" style="fill:none;stroke-width:1.83"/>
<path d="M441.2,1052.5L444,1049C446,1047.5 453,1047.5 455.5,1049L458.8,1052.5L455.5,1056.5C453,1057.8 446,1057.8 444,1056.5Z"/>
<path d="M446,1053C447,1054.5 452,1054.5 454,1053 M448,1049.5H452" style="fill:none;stroke-width:1.59"/>
<path d="M443.2,1078C443.2,1075 446,1073 450.5,1073C455,1073 457.8,1075 457.8,1078C457.8,1081 455,1082 450.5,1082C446,1082 443.2,1081 443.2,1078Z"/>
<path d="M446,1082V1085.6H455V1082 M450.5,1082V1085.6" style="fill:none"/>
<ellipse cx="450.5" cy="1076" rx="3.5" ry="1.8" style="stroke-width:1.59"/>
</g>
<g id="types" style="fill:none;stroke:#000;stroke-width:1.95">
<path d="M73,1032.6H154C161,1032.6 166.6,1039 166.6,1046.8C166.6,1054.6 161,1061 154,1061H73C66,1061 60.6,1054.6 60.6,1046.8C60.6,1039 66,1032.6 73,1032.6Z"/>
<path d="M93.2,1032.6V1061M136,1032.6V1061"/>
<ellipse cx="73.6" cy="1046.5" rx="6" ry="5.5"/>
<ellipse cx="152.3" cy="1046.5" rx="5" ry="5.5"/>
<path d="M214,1032.6H295C302,1032.6 307.3,1039 307.3,1046.8C307.3,1054.6 302,1061 295,1061H214C207,1061 201.3,1054.6 201.3,1046.8C201.3,1039 207,1032.6 214,1032.6Z"/>
<path d="M234,1032.6V1061M276.7,1033V1058"/>
<ellipse cx="215.6" cy="1046.5" rx="7" ry="5"/>
<ellipse cx="293" cy="1046.5" rx="5" ry="5.5"/>
</g>

<g id="dashes" class="d">
<path d="M265.7,100.5V84.5L332.6,123.6L329,383L437,444L438,423"/>
<path d="M146,547L343,498"/>
<path d="M284,535L452,634"/>
<path d="M493,790L510,922"/>
<path d="M187,755V772.5L328.4,734V788"/>
<path d="M328,963V967.6L449,936.3V988"/>
</g>
<!-- type box -->
<text class="N" x="170.7" y="985" textLength="18.3" lengthAdjust="spacingAndGlyphs">※4</text>
<rect x="44.3" y="994.7" width="279.3" height="87.6" class="t" style="stroke-width:2"/>
<line x1="44.3" y1="1014.2" x2="323.6" y2="1014.2" class="t" style="stroke-width:1.8"/>
<line x1="183" y1="994.7" x2="183" y2="1082.3" class="t" style="stroke-width:1.8"/>
<text x="90.4" y="1009" textLength="50.6" lengthAdjust="spacingAndGlyphs" style="font-family:'Liberation Sans',sans-serif;font-size:13.5px;fill:#000;stroke:#000;stroke-width:0.45">TYPE A</text>
<text x="227.8" y="1009" textLength="51" lengthAdjust="spacingAndGlyphs" style="font-family:'Liberation Sans',sans-serif;font-size:13.5px;fill:#000;stroke:#000;stroke-width:0.45">TYPE B</text>

<rect x="85" y="310" width="115" height="30.5" fill="rgba(255,0,0,0.5)"/>
</svg>
<div id="foot"><span id="f1" style="left:144px;top:4px;transform:scaleX(0.926);transform-origin:0 0">TOYOTA - 485100D591</span><span id="f2" style="left:485px;top:4px;transform:scaleX(0.954);transform-origin:0 0">N - 48510</span></div>
</body></html>
